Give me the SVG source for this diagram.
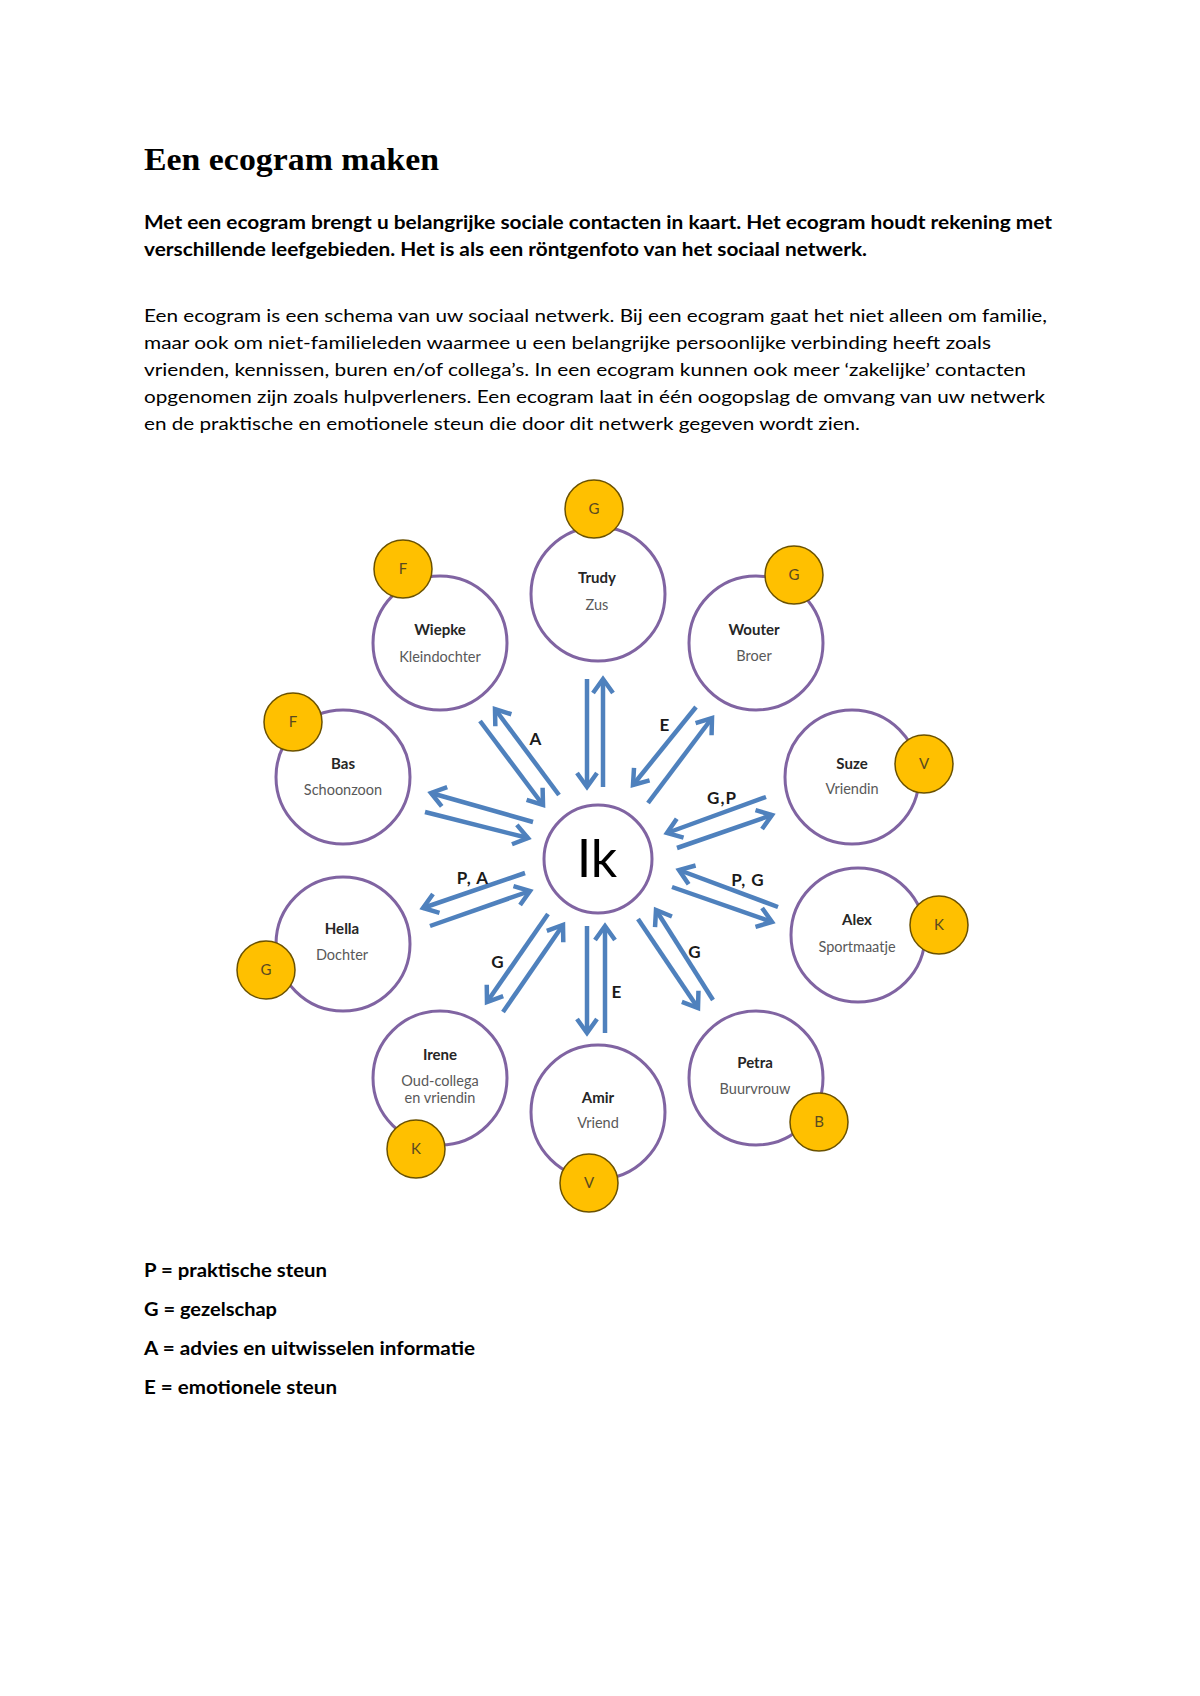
<svg xmlns="http://www.w3.org/2000/svg" width="1200" height="1696" viewBox="0 0 1200 1696">
<style>
.title{font-family:"Liberation Serif",serif;font-weight:bold;font-size:31px;fill:#000}
.lead{font-family:Lato,"Liberation Sans",sans-serif;font-weight:bold;font-size:18px;fill:#000}
.body{font-family:Lato,"Liberation Sans",sans-serif;font-size:18px;fill:#000}
.node{fill:#fff;stroke:#8064a2;stroke-width:3}
.badge{fill:#ffc000;stroke:#6b5200;stroke-width:1.5}
.bl{font-family:Lato,"Liberation Sans",sans-serif;font-size:15px;fill:#5a4a20;text-anchor:middle}
.nm{font-family:Lato,"Liberation Sans",sans-serif;font-weight:bold;font-size:15px;fill:#262626;text-anchor:middle}
.rl{font-family:Lato,"Liberation Sans",sans-serif;font-size:14.5px;fill:#595959;text-anchor:middle}
.ar{stroke:#4f81bd;stroke-width:4.5;fill:none;marker-end:url(#ah)}
.lab{font-family:Lato,"Liberation Sans",sans-serif;font-weight:bold;font-size:17px;letter-spacing:1px;fill:#1a1a1a;text-anchor:middle}
</style>
<defs>
<marker id="ah" markerUnits="userSpaceOnUse" viewBox="-20 -15 30 30" markerWidth="30" markerHeight="30" refX="0" refY="0" orient="auto">
<path d="M-14,-10 L0,0 L-14,10" fill="none" stroke="#4f81bd" stroke-width="4.5"/>
</marker>
</defs>
<rect width="1200" height="1696" fill="#fff"/>
<g id="text">
<text class="title" x="144" y="170" textLength="295" lengthAdjust="spacingAndGlyphs">Een ecogram maken</text>
<text class="lead" x="144" y="229" textLength="908" lengthAdjust="spacingAndGlyphs">Met een ecogram brengt u belangrijke sociale contacten in kaart. Het ecogram houdt rekening met</text>
<text class="lead" x="144" y="256" textLength="723" lengthAdjust="spacingAndGlyphs">verschillende leefgebieden. Het is als een röntgenfoto van het sociaal netwerk.</text>
<text class="body" x="144" y="322" textLength="903" lengthAdjust="spacingAndGlyphs">Een ecogram is een schema van uw sociaal netwerk. Bij een ecogram gaat het niet alleen om familie,</text>
<text class="body" x="144" y="349" textLength="847" lengthAdjust="spacingAndGlyphs">maar ook om niet-familieleden waarmee u een belangrijke persoonlijke verbinding heeft zoals</text>
<text class="body" x="144" y="376" textLength="882" lengthAdjust="spacingAndGlyphs">vrienden, kennissen, buren en/of collega’s. In een ecogram kunnen ook meer ‘zakelijke’ contacten</text>
<text class="body" x="144" y="403" textLength="901" lengthAdjust="spacingAndGlyphs">opgenomen zijn zoals hulpverleners. Een ecogram laat in één oogopslag de omvang van uw netwerk</text>
<text class="body" x="144" y="430" textLength="716" lengthAdjust="spacingAndGlyphs">en de praktische en emotionele steun die door dit netwerk gegeven wordt zien.</text>
<text class="lead" x="144" y="1277" textLength="183" lengthAdjust="spacingAndGlyphs">P = praktische steun</text>
<text class="lead" x="144" y="1316" textLength="133" lengthAdjust="spacingAndGlyphs">G = gezelschap</text>
<text class="lead" x="144" y="1355" textLength="331" lengthAdjust="spacingAndGlyphs">A = advies en uitwisselen informatie</text>
<text class="lead" x="144" y="1394" textLength="193" lengthAdjust="spacingAndGlyphs">E = emotionele steun</text>
</g>
<g id="connectors">
<line class="ar" x1="587" y1="679" x2="587" y2="787"/>
<line class="ar" x1="603" y1="787" x2="603" y2="679"/>
<line class="ar" x1="696" y1="707" x2="633" y2="785"/>
<line class="ar" x1="648" y1="803" x2="712" y2="718"/>
<line class="ar" x1="766" y1="797" x2="667" y2="833"/>
<line class="ar" x1="677" y1="848" x2="772" y2="815"/>
<line class="ar" x1="480" y1="721" x2="543" y2="805"/>
<line class="ar" x1="559" y1="795" x2="495" y2="709"/>
<line class="ar" x1="533" y1="822" x2="431" y2="793"/>
<line class="ar" x1="425" y1="812" x2="528" y2="838"/>
<line class="ar" x1="525" y1="873" x2="423" y2="908"/>
<line class="ar" x1="430" y1="926" x2="530" y2="891"/>
<line class="ar" x1="548" y1="914" x2="487" y2="1002"/>
<line class="ar" x1="503" y1="1012" x2="563" y2="925"/>
<line class="ar" x1="778" y1="907" x2="679" y2="870"/>
<line class="ar" x1="672" y1="887" x2="772" y2="922"/>
<line class="ar" x1="638" y1="919" x2="698" y2="1008"/>
<line class="ar" x1="713" y1="1000" x2="656" y2="910"/>
<line class="ar" x1="587" y1="926" x2="587" y2="1033"/>
<line class="ar" x1="605" y1="1033" x2="605" y2="926"/>
<text class="lab" x="536" y="745">A</text>
<text class="lab" x="665" y="731">E</text>
<text class="lab" x="722" y="804">G,P</text>
<text class="lab" x="473" y="884">P, A</text>
<text class="lab" x="748" y="886">P, G</text>
<text class="lab" x="498" y="968">G</text>
<text class="lab" x="695" y="958">G</text>
<text class="lab" x="617" y="998">E</text>
</g>
<g id="ik">
<circle class="node" cx="598" cy="859" r="54"/>
<text x="597" y="877" font-family="Lato,'Liberation Sans',sans-serif" font-size="52" fill="#000" text-anchor="middle">Ik</text>
</g>
<g id="trudy">
<circle class="node" cx="598" cy="594" r="67"/>
<circle class="badge" cx="594" cy="509" r="29"/>
<text class="bl" x="594" y="514">G</text>
<text class="nm" x="597" y="583">Trudy</text>
<text class="rl" x="597" y="610">Zus</text>
</g>
<g id="wiepke">
<circle class="node" cx="440" cy="643" r="67"/>
<circle class="badge" cx="403" cy="569" r="29"/>
<text class="bl" x="403" y="574">F</text>
<text class="nm" x="440" y="635">Wiepke</text>
<text class="rl" x="440" y="662">Kleindochter</text>
</g>
<g id="wouter">
<circle class="node" cx="756" cy="643" r="67"/>
<circle class="badge" cx="794" cy="575" r="29"/>
<text class="bl" x="794" y="580">G</text>
<text class="nm" x="754" y="635">Wouter</text>
<text class="rl" x="754" y="661">Broer</text>
</g>
<g id="bas">
<circle class="node" cx="343" cy="777" r="67"/>
<circle class="badge" cx="293" cy="722" r="29"/>
<text class="bl" x="293" y="727">F</text>
<text class="nm" x="343" y="769">Bas</text>
<text class="rl" x="343" y="795">Schoonzoon</text>
</g>
<g id="suze">
<circle class="node" cx="852" cy="777" r="67"/>
<circle class="badge" cx="924" cy="764" r="29"/>
<text class="bl" x="924" y="769">V</text>
<text class="nm" x="852" y="769">Suze</text>
<text class="rl" x="852" y="794">Vriendin</text>
</g>
<g id="hella">
<circle class="node" cx="343" cy="944" r="67"/>
<circle class="badge" cx="266" cy="970" r="29"/>
<text class="bl" x="266" y="975">G</text>
<text class="nm" x="342" y="934">Hella</text>
<text class="rl" x="342" y="960">Dochter</text>
</g>
<g id="alex">
<circle class="node" cx="858" cy="935" r="67"/>
<circle class="badge" cx="939" cy="925" r="29"/>
<text class="bl" x="939" y="930">K</text>
<text class="nm" x="857" y="925">Alex</text>
<text class="rl" x="857" y="952">Sportmaatje</text>
</g>
<g id="irene">
<circle class="node" cx="440" cy="1078" r="67"/>
<circle class="badge" cx="416" cy="1149" r="29"/>
<text class="bl" x="416" y="1154">K</text>
<text class="nm" x="440" y="1060">Irene</text>
<text class="rl" x="440" y="1086">Oud-collega</text>
<text class="rl" x="440" y="1103">en vriendin</text>
</g>
<g id="petra">
<circle class="node" cx="756" cy="1078" r="67"/>
<circle class="badge" cx="819" cy="1122" r="29"/>
<text class="bl" x="819" y="1127">B</text>
<text class="nm" x="755" y="1068">Petra</text>
<text class="rl" x="755" y="1094">Buurvrouw</text>
</g>
<g id="amir">
<circle class="node" cx="598" cy="1112" r="67"/>
<circle class="badge" cx="589" cy="1183" r="29"/>
<text class="bl" x="589" y="1188">V</text>
<text class="nm" x="598" y="1103">Amir</text>
<text class="rl" x="598" y="1128">Vriend</text>
</g>
</svg>
